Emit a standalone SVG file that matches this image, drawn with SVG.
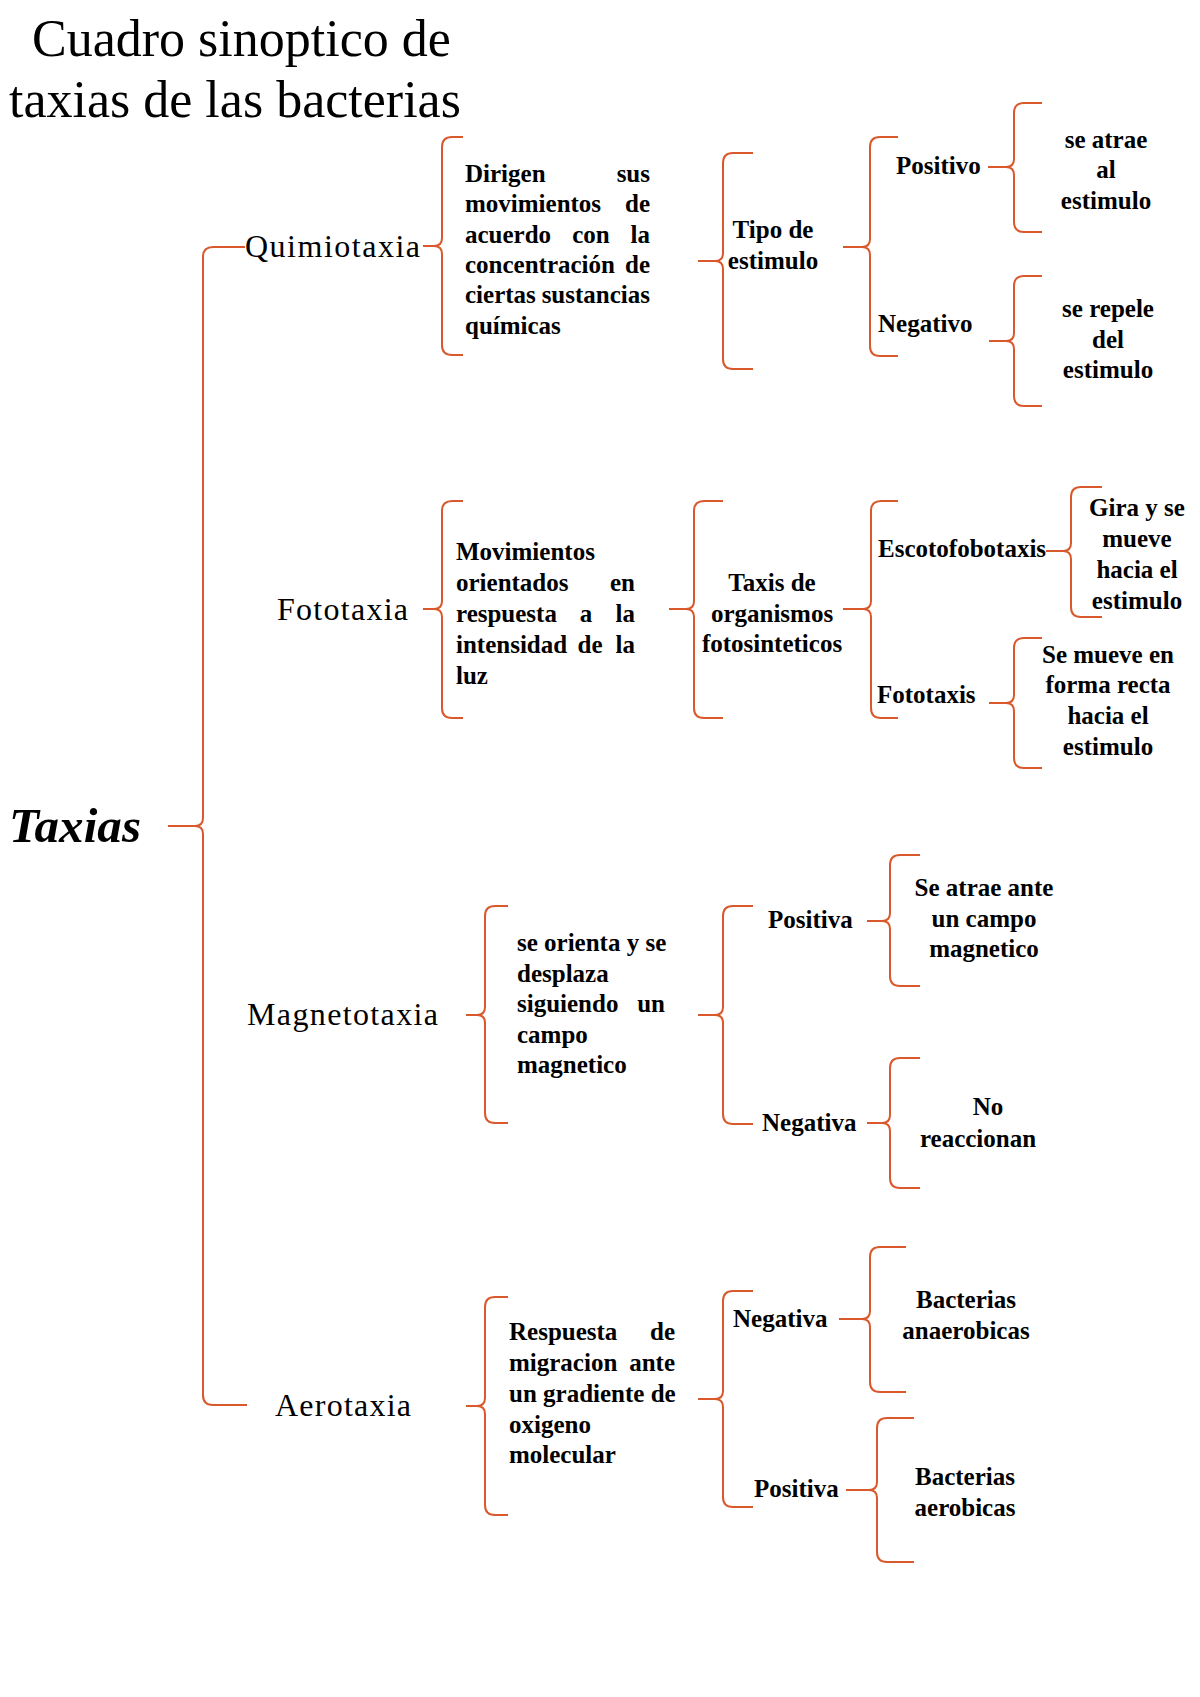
<svg xmlns="http://www.w3.org/2000/svg" width="1200" height="1697" viewBox="0 0 1200 1697">
<style>
text{font-family:"Liberation Serif","Times New Roman",serif;fill:#000}
.title{font-size:52px}
.root{font-size:49px;font-weight:bold;font-style:italic}
.big{font-size:32px}
.s{font-size:25px;font-weight:bold}
.c{text-anchor:middle}
.e{text-anchor:end}
.br{fill:none;stroke:#D9582C;stroke-width:2;stroke-linejoin:round}
</style>
<rect width="1200" height="1697" fill="#fff"/>
<g id="title">
<text class="title" x="32" y="56">Cuadro sinoptico de</text>
<text class="title" x="9" y="117">taxias de las bacterias</text>
</g>
<g id="connectors" class="br">
<path d="M245,247 H213 Q203,247 203,257 V818 Q203,826 195,826 Q203,826 203,834 V1395 Q203,1405 213,1405 H247 M168,826 H195"/>
<path d="M463,137 H452 Q442,137 442,147 V238 Q442,246 434,246 Q442,246 442,254 V345 Q442,355 452,355 H463 M423,246 H434"/>
<path d="M753,153 H733 Q723,153 723,163 V253 Q723,261 715,261 Q723,261 723,269 V359 Q723,369 733,369 H753 M698,261 H715"/>
<path d="M898,137 H880 Q870,137 870,147 V239 Q870,247 862,247 Q870,247 870,255 V346 Q870,356 880,356 H898 M843,247 H862"/>
<path d="M1042,103 H1024 Q1014,103 1014,113 V159 Q1014,167 1006,167 Q1014,167 1014,175 V222 Q1014,232 1024,232 H1042 M988,167 H1006"/>
<path d="M1042,276 H1024 Q1014,276 1014,286 V333 Q1014,341 1006,341 Q1014,341 1014,349 V396 Q1014,406 1024,406 H1042 M989,341 H1006"/>
<path d="M463,501 H452 Q442,501 442,511 V601 Q442,609 434,609 Q442,609 442,617 V708 Q442,718 452,718 H463 M423,609 H434"/>
<path d="M723,501 H704 Q694,501 694,511 V601 Q694,609 686,609 Q694,609 694,617 V708 Q694,718 704,718 H723 M669,609 H686"/>
<path d="M898,501 H881 Q871,501 871,511 V601 Q871,609 863,609 Q871,609 871,617 V708 Q871,718 881,718 H898 M843,609 H863"/>
<path d="M1102,487 H1081 Q1071,487 1071,497 V543 Q1071,551 1063,551 Q1071,551 1071,559 V607 Q1071,617 1081,617 H1102 M1046,551 H1063"/>
<path d="M1042,638 H1024 Q1014,638 1014,648 V695 Q1014,703 1006,703 Q1014,703 1014,711 V758 Q1014,768 1024,768 H1042 M989,703 H1006"/>
<path d="M508,906 H495 Q485,906 485,916 V1007 Q485,1015 477,1015 Q485,1015 485,1023 V1113 Q485,1123 495,1123 H508 M466,1015 H477"/>
<path d="M753,906 H733 Q723,906 723,916 V1007 Q723,1015 715,1015 Q723,1015 723,1023 V1114 Q723,1124 733,1124 H753 M698,1015 H715"/>
<path d="M920,855 H900 Q890,855 890,865 V913 Q890,921 882,921 Q890,921 890,929 V976 Q890,986 900,986 H920 M867,921 H882"/>
<path d="M920,1058 H900 Q890,1058 890,1068 V1115 Q890,1123 882,1123 Q890,1123 890,1131 V1178 Q890,1188 900,1188 H920 M867,1123 H882"/>
<path d="M508,1297 H495 Q485,1297 485,1307 V1398 Q485,1406 477,1406 Q485,1406 485,1414 V1505 Q485,1515 495,1515 H508 M466,1406 H477"/>
<path d="M753,1291 H733 Q723,1291 723,1301 V1391 Q723,1399 715,1399 Q723,1399 723,1407 V1497 Q723,1507 733,1507 H753 M698,1399 H715"/>
<path d="M906,1247 H880 Q870,1247 870,1257 V1311 Q870,1319 862,1319 Q870,1319 870,1327 V1382 Q870,1392 880,1392 H906 M839,1319 H862"/>
<path d="M914,1418 H887 Q877,1418 877,1428 V1482 Q877,1490 869,1490 Q877,1490 877,1498 V1552 Q877,1562 887,1562 H914 M846,1490 H869"/>
</g>
<g id="taxias"><text class="root" x="9" y="842" textLength="132">Taxias</text></g>
<g id="quimiotaxia"><text class="big" x="245" y="257" textLength="175">Quimiotaxia</text></g>
<g id="quimio-desc">
<text class="s" x="465" y="182">Dirigen</text><text class="s e" x="650" y="182">sus</text>
<text class="s" x="465" y="212">movimientos</text><text class="s e" x="650" y="212">de</text>
<text class="s" x="465" y="243">acuerdo</text><text class="s c" x="591" y="243">con</text><text class="s e" x="650" y="243">la</text>
<text class="s" x="465" y="273">concentración</text><text class="s e" x="650" y="273">de</text>
<text class="s" x="465" y="303">ciertas</text><text class="s e" x="650" y="303">sustancias</text>
<text class="s" x="465" y="334">químicas</text>
</g>
<g id="tipo-estimulo"><text class="s c" x="773" y="238">Tipo de</text><text class="s c" x="773" y="269">estimulo</text></g>
<g id="quimio-positivo"><text class="s" x="896" y="174">Positivo</text></g>
<g id="quimio-negativo"><text class="s" x="878" y="332">Negativo</text></g>
<g id="atrae"><text class="s c" x="1106" y="148">se atrae</text><text class="s c" x="1106" y="178">al</text><text class="s c" x="1106" y="209">estimulo</text></g>
<g id="repele"><text class="s c" x="1108" y="317">se repele</text><text class="s c" x="1108" y="348">del</text><text class="s c" x="1108" y="378">estimulo</text></g>
<g id="fototaxia"><text class="big" x="277" y="620" textLength="131">Fototaxia</text></g>
<g id="foto-desc">
<text class="s" x="456" y="560">Movimientos</text>
<text class="s" x="456" y="591">orientados</text><text class="s e" x="635" y="591">en</text>
<text class="s" x="456" y="622">respuesta</text><text class="s c" x="586" y="622">a</text><text class="s e" x="635" y="622">la</text>
<text class="s" x="456" y="653">intensidad</text><text class="s c" x="590" y="653">de</text><text class="s e" x="635" y="653">la</text>
<text class="s" x="456" y="684">luz</text>
</g>
<g id="taxis-organismos"><text class="s c" x="772" y="591">Taxis de</text><text class="s c" x="772" y="622">organismos</text><text class="s c" x="772" y="652">fotosinteticos</text></g>
<g id="escotofobotaxis"><text class="s" x="878" y="557">Escotofobotaxis</text></g>
<g id="gira"><text class="s c" x="1137" y="516">Gira y se</text><text class="s c" x="1137" y="547">mueve</text><text class="s c" x="1137" y="578">hacia el</text><text class="s c" x="1137" y="609">estimulo</text></g>
<g id="fototaxis"><text class="s" x="877" y="703">Fototaxis</text></g>
<g id="mueve-recta"><text class="s c" x="1108" y="663">Se mueve en</text><text class="s c" x="1108" y="693">forma recta</text><text class="s c" x="1108" y="724">hacia el</text><text class="s c" x="1108" y="755">estimulo</text></g>
<g id="magnetotaxia"><text class="big" x="247" y="1025" textLength="191">Magnetotaxia</text></g>
<g id="magneto-desc">
<text class="s" x="517" y="951">se orienta y se</text>
<text class="s" x="517" y="982">desplaza</text>
<text class="s" x="517" y="1012">siguiendo</text><text class="s e" x="665" y="1012">un</text>
<text class="s" x="517" y="1043">campo</text>
<text class="s" x="517" y="1073">magnetico</text>
</g>
<g id="magneto-positiva"><text class="s" x="768" y="928">Positiva</text></g>
<g id="atrae-campo"><text class="s c" x="984" y="896">Se atrae ante</text><text class="s c" x="984" y="927">un campo</text><text class="s c" x="984" y="957">magnetico</text></g>
<g id="magneto-negativa"><text class="s" x="762" y="1131">Negativa</text></g>
<g id="no-reaccionan"><text class="s c" x="988" y="1115">No</text><text class="s c" x="978" y="1147">reaccionan</text></g>
<g id="aerotaxia"><text class="big" x="275" y="1416" textLength="136">Aerotaxia</text></g>
<g id="aero-desc">
<text class="s" x="509" y="1340">Respuesta</text><text class="s e" x="675" y="1340">de</text>
<text class="s" x="509" y="1371">migracion</text><text class="s e" x="675" y="1371">ante</text>
<text class="s" x="509" y="1402">un gradiente de</text>
<text class="s" x="509" y="1433">oxigeno</text>
<text class="s" x="509" y="1463">molecular</text>
</g>
<g id="aero-negativa"><text class="s" x="733" y="1327">Negativa</text></g>
<g id="anaerobicas"><text class="s c" x="966" y="1308">Bacterias</text><text class="s c" x="966" y="1339">anaerobicas</text></g>
<g id="aero-positiva"><text class="s" x="754" y="1497">Positiva</text></g>
<g id="aerobicas"><text class="s c" x="965" y="1485">Bacterias</text><text class="s c" x="965" y="1516">aerobicas</text></g>
</svg>
